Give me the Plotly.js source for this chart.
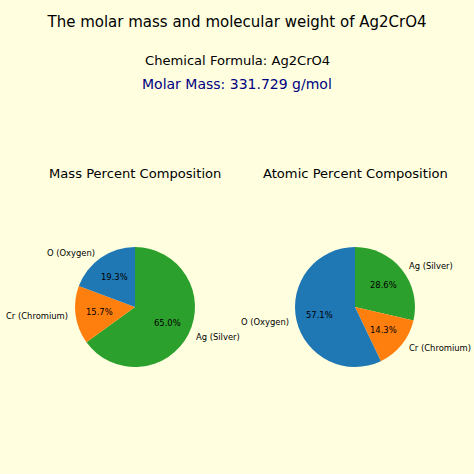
<!DOCTYPE html>
<html>
<head>
<meta charset="utf-8">
<script src="https://cdn.plot.ly/plotly-3.0.1.min.js"></script>
<style>
html, body { margin: 0; padding: 0; background: #ffffe0; }
#chart { width: 474px; height: 474px; }
</style>
</head>
<body>
<div id="chart"></div>
<script>
// data
const elements = ["O (Oxygen)", "Cr (Chromium)", "Ag (Silver)"];
const massPercent = [19.3, 15.7, 65.0];
const atomicPercent = [57.1, 14.3, 28.6];
const colors = ["#1f77b4", "#ff7f0e", "#2ca02c"];

const W = 474, H = 474;
const R = 60; // pie radius, px
const pies = [
    { values: massPercent, cx: 135, cy: 307, title: "Mass Percent Composition" },
    { values: atomicPercent, cx: 355, cy: 307, title: "Atomic Percent Composition" }
];
const font = "DejaVu Sans, sans-serif";
const smallSize = 8.4;

let data = [];
let annotations = [];

pies.forEach(function (p) {
    // matplotlib goes counterclockwise from 12 o'clock; plotly's clockwise
    // from 12 o'clock gives the same picture with the order reversed
    data.push({
        type: "pie",
        labels: elements.slice().reverse(),
        values: p.values.slice().reverse(),
        sort: false,
        direction: "clockwise",
        rotation: 0,
        textinfo: "none",
        marker: { colors: colors.slice().reverse(), line: { width: 0 } },
        domain: {
            x: [(p.cx - R) / W, (p.cx + R) / W],
            y: [(H - p.cy - R) / H, (H - p.cy + R) / H]
        },
        showlegend: false
    });
    // labels at 1.1 r and percents at 0.6 r, like matplotlib
    let total = p.values.reduce((a, b) => a + b, 0);
    let start = 90;
    for (let i = 0; i < p.values.length; i++) {
        let sweep = p.values[i] / total * 360;
        let mid = (start + sweep / 2) * Math.PI / 180;
        start += sweep;
        let c = Math.cos(mid), s = Math.sin(mid);
        annotations.push({
            xref: "paper", yref: "paper",
            x: (p.cx + 1.1 * R * c) / W, y: (H - p.cy + 1.1 * R * s) / H,
            xanchor: c > 0 ? "left" : "right", yanchor: "middle",
            text: elements[i], showarrow: false,
            font: { family: font, size: smallSize, color: "#000" }
        });
        annotations.push({
            xref: "paper", yref: "paper",
            x: (p.cx + 0.6 * R * c) / W, y: (H - p.cy + 0.6 * R * s) / H,
            xanchor: "center", yanchor: "middle",
            text: (p.values[i] / total * 100).toFixed(1) + "%", showarrow: false,
            font: { family: font, size: smallSize, color: "#000" }
        });
    }
    annotations.push({
        xref: "paper", yref: "paper",
        x: p.cx / W, y: 1 - 173 / H,
        xanchor: "center", yanchor: "middle",
        text: p.title, showarrow: false,
        font: { family: font, size: 13.1, color: "#000" }
    });
});

annotations.push({
    xref: "paper", yref: "paper", x: 0.5, y: 1 - 61 / H,
    xanchor: "center", yanchor: "middle", showarrow: false,
    text: "Chemical Formula: Ag2CrO4",
    font: { family: font, size: 13.1, color: "#000" }
});
annotations.push({
    xref: "paper", yref: "paper", x: 0.5, y: 1 - 84 / H,
    xanchor: "center", yanchor: "middle", showarrow: false,
    text: "Molar Mass: 331.729 g/mol",
    font: { family: font, size: 14, color: "#000080" }
});

const layout = {
    width: W,
    height: H,
    margin: { l: 0, r: 0, t: 0, b: 0 },
    paper_bgcolor: "#ffffe0",
    plot_bgcolor: "#ffffe0",
    title: {
        text: "The molar mass and molecular weight of Ag2CrO4",
        x: 0.5, xanchor: "center",
        y: 1 - 22 / H, yanchor: "middle",
        font: { family: font, size: 15, color: "#000" }
    },
    annotations: annotations
};

Plotly.newPlot("chart", data, layout, { displayModeBar: false, staticPlot: true });
</script>
</body>
</html>
